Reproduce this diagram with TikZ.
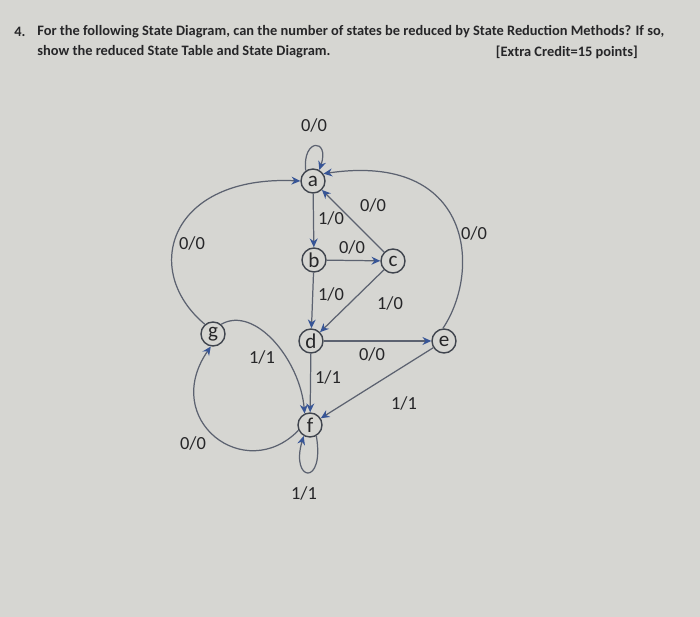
\documentclass[tikz,border=0pt]{standalone}
\usepackage{fontspec}
\setmainfont{Carlito}
\usetikzlibrary{arrows.meta}
\definecolor{paper}{RGB}{214,214,210}
\definecolor{ink}{RGB}{38,38,40}
\definecolor{edgec}{RGB}{92,98,112}
\definecolor{tipc}{RGB}{55,85,150}
\begin{document}
\begin{tikzpicture}[x=0.02cm,y=-0.02cm,
  state/.style={circle,draw=edgec!70!black,line width=0.8pt,minimum size=0.48cm,inner sep=0pt,font=\fontsize{12}{12}\selectfont,text=ink},
  tr/.style={draw=edgec,line width=0.7pt,-{Stealth[length=5pt,width=4.5pt,color=tipc]}},
  lbl/.style={font=\fontsize{10.5}{12}\selectfont,text=ink,inner sep=0pt},
  ttl/.style={font=\fontsize{8.2}{10}\bfseries\selectfont,text=ink,inner sep=0pt}]
\fill[paper] (0,0) rectangle (700,617);
\useasboundingbox (0,0) rectangle (700,617);
% title
\node[ttl,anchor=west] (num) at (14,32) {4.};
\node[ttl,anchor=west] (l1) at (37,32) {For the following State Diagram, can the number of states be reduced by State Reduction Methods? If so,};
\node[ttl,anchor=west] (l2) at (37,52) {show the reduced State Table and State Diagram.};
\node[ttl,anchor=east] (cr) at (638,52) {[Extra Credit=15 points]};
% states
\node[state] (a) at (313,181) {a};
\node[state] (b) at (314,260) {b};
\node[state] (c) at (393,261) {c};
\node[state] (d) at (311,341) {d};
\node[state] (e) at (444,341) {e};
\node[state] (f) at (310,425) {f};
\node[state] (g) at (213,334) {g};
% transitions
\draw[tr] (a.125) .. controls (302,138) and (330,138) .. (a.60);
\draw[tr] (g.130) .. controls (140,270) and (170,175) .. (a.west);
\draw[tr] (e.95) .. controls (482,270) and (472,152) .. (a.35);
\draw[tr] (a) -- (b);
\draw[tr] (c) -- (a);
\draw[tr] (b) -- (c);
\draw[tr] (b) -- (d);
\draw[tr] (c) -- (d);
\draw[tr] (d) -- (e);
\draw[tr] (d) -- (f);
\draw[tr] (e) -- (f);
\draw[tr] (g.50) .. controls (255,305) and (300,360) .. (f.115);
\draw[tr] (f.205) .. controls (245,485) and (160,420) .. (g.-100);
\draw[tr] (f.-60) .. controls (325,487) and (290,482) .. (f.-120);
% labels
\node[lbl] (la) at (314,125) {0/0};
\node[lbl] (lga) at (192,243) {0/0};
\node[lbl] (lea) at (474,233) {0/0};
\node[lbl] (lab) at (331,218) {1/0};
\node[lbl] (lca) at (373,205) {0/0};
\node[lbl] (lbc) at (352,247) {0/0};
\node[lbl] (lbd) at (331,294) {1/0};
\node[lbl] (lcd) at (390,303) {1/0};
\node[lbl] (lde) at (372,354) {0/0};
\node[lbl] (ldf) at (328,377) {1/1};
\node[lbl] (lef) at (404,403) {1/1};
\node[lbl] (lgf) at (262,357) {1/1};
\node[lbl] (lfg) at (193,443) {0/0};
\node[lbl] (lff) at (304,493) {1/1};
\end{tikzpicture}
\end{document}
